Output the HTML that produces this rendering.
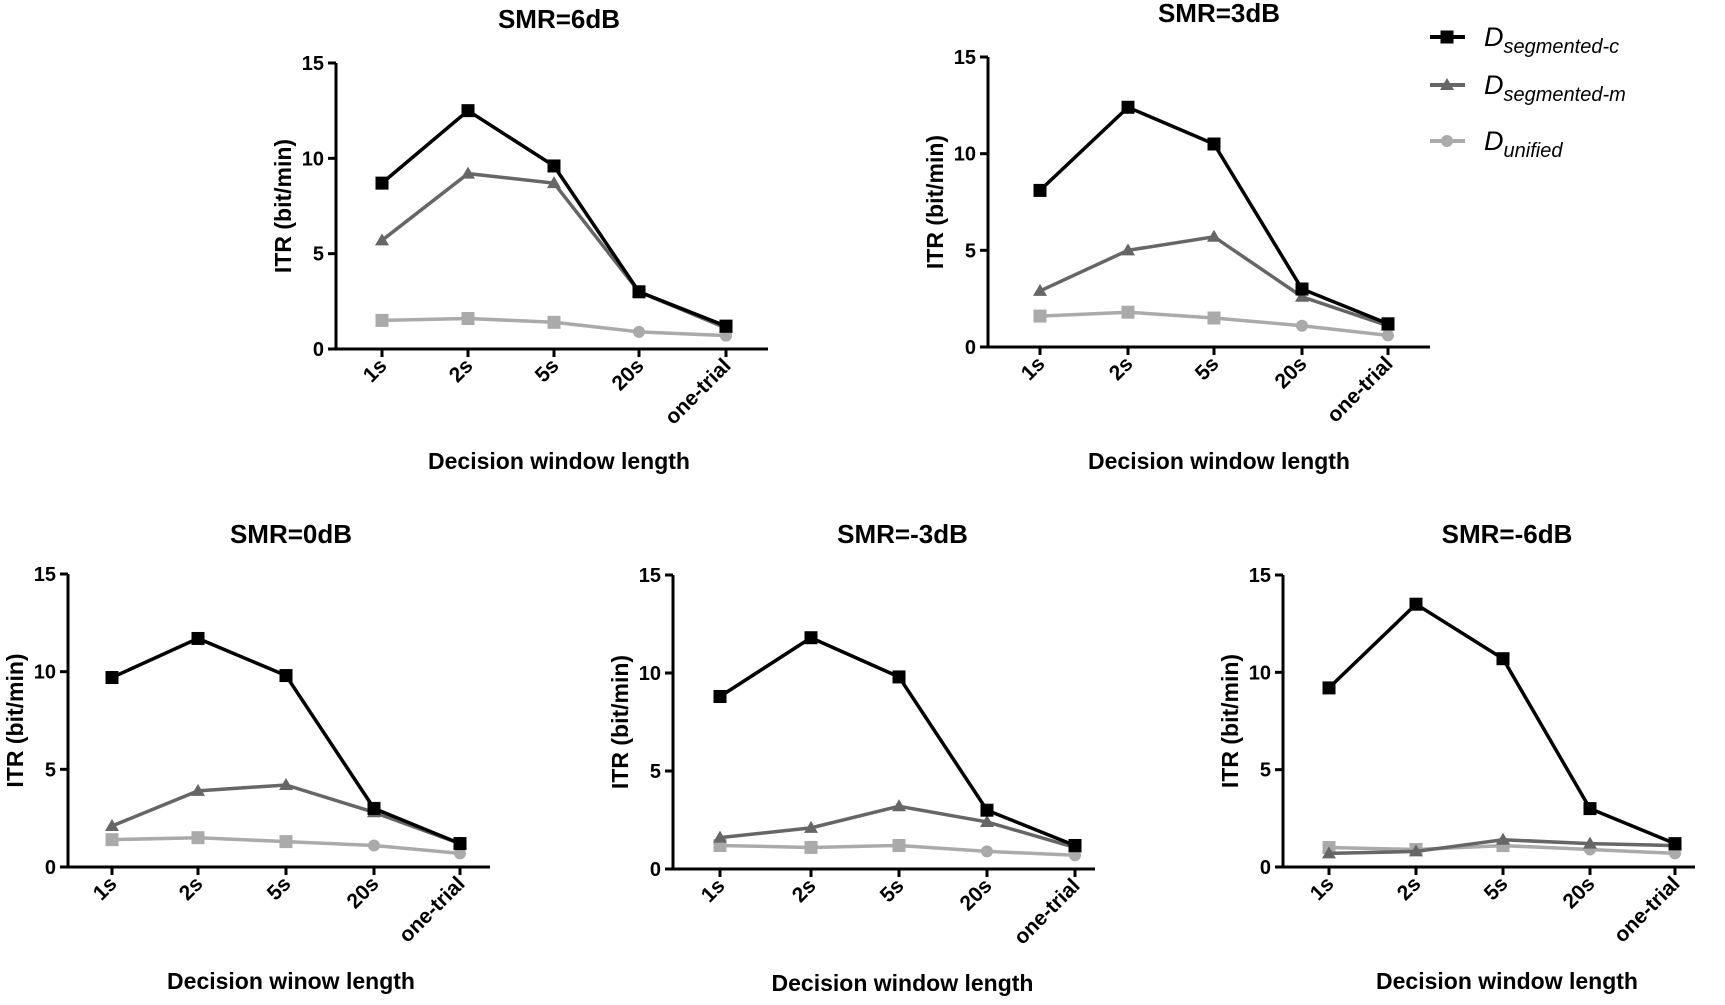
<!DOCTYPE html>
<html><head><meta charset="utf-8"><style>
body{margin:0;background:#fff;width:1725px;height:1000px;overflow:hidden}
svg text{font-family:"Liberation Sans",Arial,sans-serif}
</style></head><body>
<svg id="s" width="1725" height="1000" xmlns="http://www.w3.org/2000/svg"></svg>
<script>
const P=[
 {ax:336,y0:349,y15:63,xe:768,t:[382,468,554,639,726],title:"SMR=6dB",ty:28,xl:"Decision window length",xly:469,
  c:[8.7,12.5,9.6,3.0,1.2],m:[5.7,9.2,8.7,3.0,1.1],u:[1.5,1.6,1.4,0.9,0.7]},
 {ax:988,y0:347,y15:57,xe:1430,t:[1040,1128,1214,1302,1388],title:"SMR=3dB",ty:22,xl:"Decision window length",xly:469,
  c:[8.1,12.4,10.5,3.0,1.2],m:[2.9,5.0,5.7,2.6,1.1],u:[1.6,1.8,1.5,1.1,0.6]},
 {ax:68,y0:867,y15:574,xe:490,t:[112,198,286,374,460],title:"SMR=0dB",ty:543,xl:"Decision winow length",xly:989,
  c:[9.7,11.7,9.8,3.0,1.2],m:[2.1,3.9,4.2,2.8,1.2],u:[1.4,1.5,1.3,1.1,0.7]},
 {ax:673,y0:869,y15:575,xe:1095,t:[720,811,899,987,1075],title:"SMR=-3dB",ty:543,xl:"Decision window length",xly:991,
  c:[8.8,11.8,9.8,3.0,1.2],m:[1.6,2.1,3.2,2.4,1.1],u:[1.2,1.1,1.2,0.9,0.7]},
 {ax:1283,y0:867,y15:575,xe:1695,t:[1329,1416,1503,1590,1675],title:"SMR=-6dB",ty:543,xl:"Decision window length",xly:989,
  c:[9.2,13.5,10.7,3.0,1.2],m:[0.7,0.8,1.4,1.2,1.1],u:[1.0,0.9,1.1,0.9,0.7]}
];
const labs=["1s","2s","5s","20s","one-trial"];
let h="";
function sq(x,y,c,s){return `<rect x="${x-s}" y="${y-s}" width="${2*s}" height="${2*s}" fill="${c}"/>`}
function tri(x,y,c){return `<polygon points="${x},${y-7} ${x-7},${y+5} ${x+7},${y+5}" fill="${c}"/>`}
function cir(x,y,c){return `<circle cx="${x}" cy="${y}" r="6" fill="${c}"/>`}
for(const p of P){
 const Y=v=>p.y0-(p.y0-p.y15)*v/15;
 const cx=(p.t[0]+p.t[4])/2+5;
 h+=`<text x="${cx}" y="${p.ty}" font-size="26" font-weight="bold" text-anchor="middle">${p.title}</text>`;
 h+=`<line x1="${p.ax}" y1="${p.y15}" x2="${p.ax}" y2="${p.y0+1.5}" stroke="#000" stroke-width="3"/>`;
 h+=`<line x1="${p.ax}" y1="${p.y0}" x2="${p.xe}" y2="${p.y0}" stroke="#000" stroke-width="3"/>`;
 for(const v of [0,5,10,15]){const y=Y(v);
  h+=`<line x1="${p.ax-8}" y1="${y}" x2="${p.ax}" y2="${y}" stroke="#000" stroke-width="3"/>`;
  h+=`<text x="${p.ax-12}" y="${y+7}" font-size="20" font-weight="bold" text-anchor="end">${v}</text>`;}
 p.t.forEach((x,i)=>{
  h+=`<line x1="${x}" y1="${p.y0}" x2="${x}" y2="${p.y0+8}" stroke="#000" stroke-width="3"/>`;
  h+=`<text transform="translate(${x+6},${p.y0+18}) rotate(-45)" font-size="21" font-weight="bold" text-anchor="end">${labs[i]}</text>`;});
 const ylc=(p.y0+p.y15)/2;
 h+=`<text transform="translate(${p.ax-45},${ylc}) rotate(-90)" font-size="23" font-weight="bold" text-anchor="middle">ITR (bit/min)</text>`;
 h+=`<text x="${cx}" y="${p.xly}" font-size="23" font-weight="bold" text-anchor="middle">${p.xl}</text>`;
 const line=(d,c)=>`<polyline points="${d.map((v,i)=>p.t[i]+","+Y(v)).join(" ")}" fill="none" stroke="${c}" stroke-width="3.5"/>`;
 h+=line(p.u,"#aaa");
 p.u.forEach((v,i)=>{h+= i<3?sq(p.t[i],Y(v),"#aaa",6.5):cir(p.t[i],Y(v),"#aaa")});
 h+=line(p.m,"#666");
 p.m.forEach((v,i)=>{h+=tri(p.t[i],Y(v),"#666")});
 h+=line(p.c,"#000");
 p.c.forEach((v,i)=>{h+=sq(p.t[i],Y(v),"#000",6.5)});
}
const L=[["#000","segmented-c",37,"s"],["#666","segmented-m",85,"t"],["#aaa","unified",141,"c"]];
for(const [c,sub,y,m] of L){
 h+=`<line x1="1430" y1="${y}" x2="1465" y2="${y}" stroke="${c}" stroke-width="4"/>`;
 h+= m=="s"?sq(1447,y,c,6.5):m=="t"?tri(1447,y,c):cir(1447,y,c);
 h+=`<text x="1484" y="${y+9}" font-size="27" font-style="italic">D<tspan font-size="20" dy="7">${sub}</tspan></text>`;
}
document.getElementById("s").innerHTML=h;
</script>
</body></html>
